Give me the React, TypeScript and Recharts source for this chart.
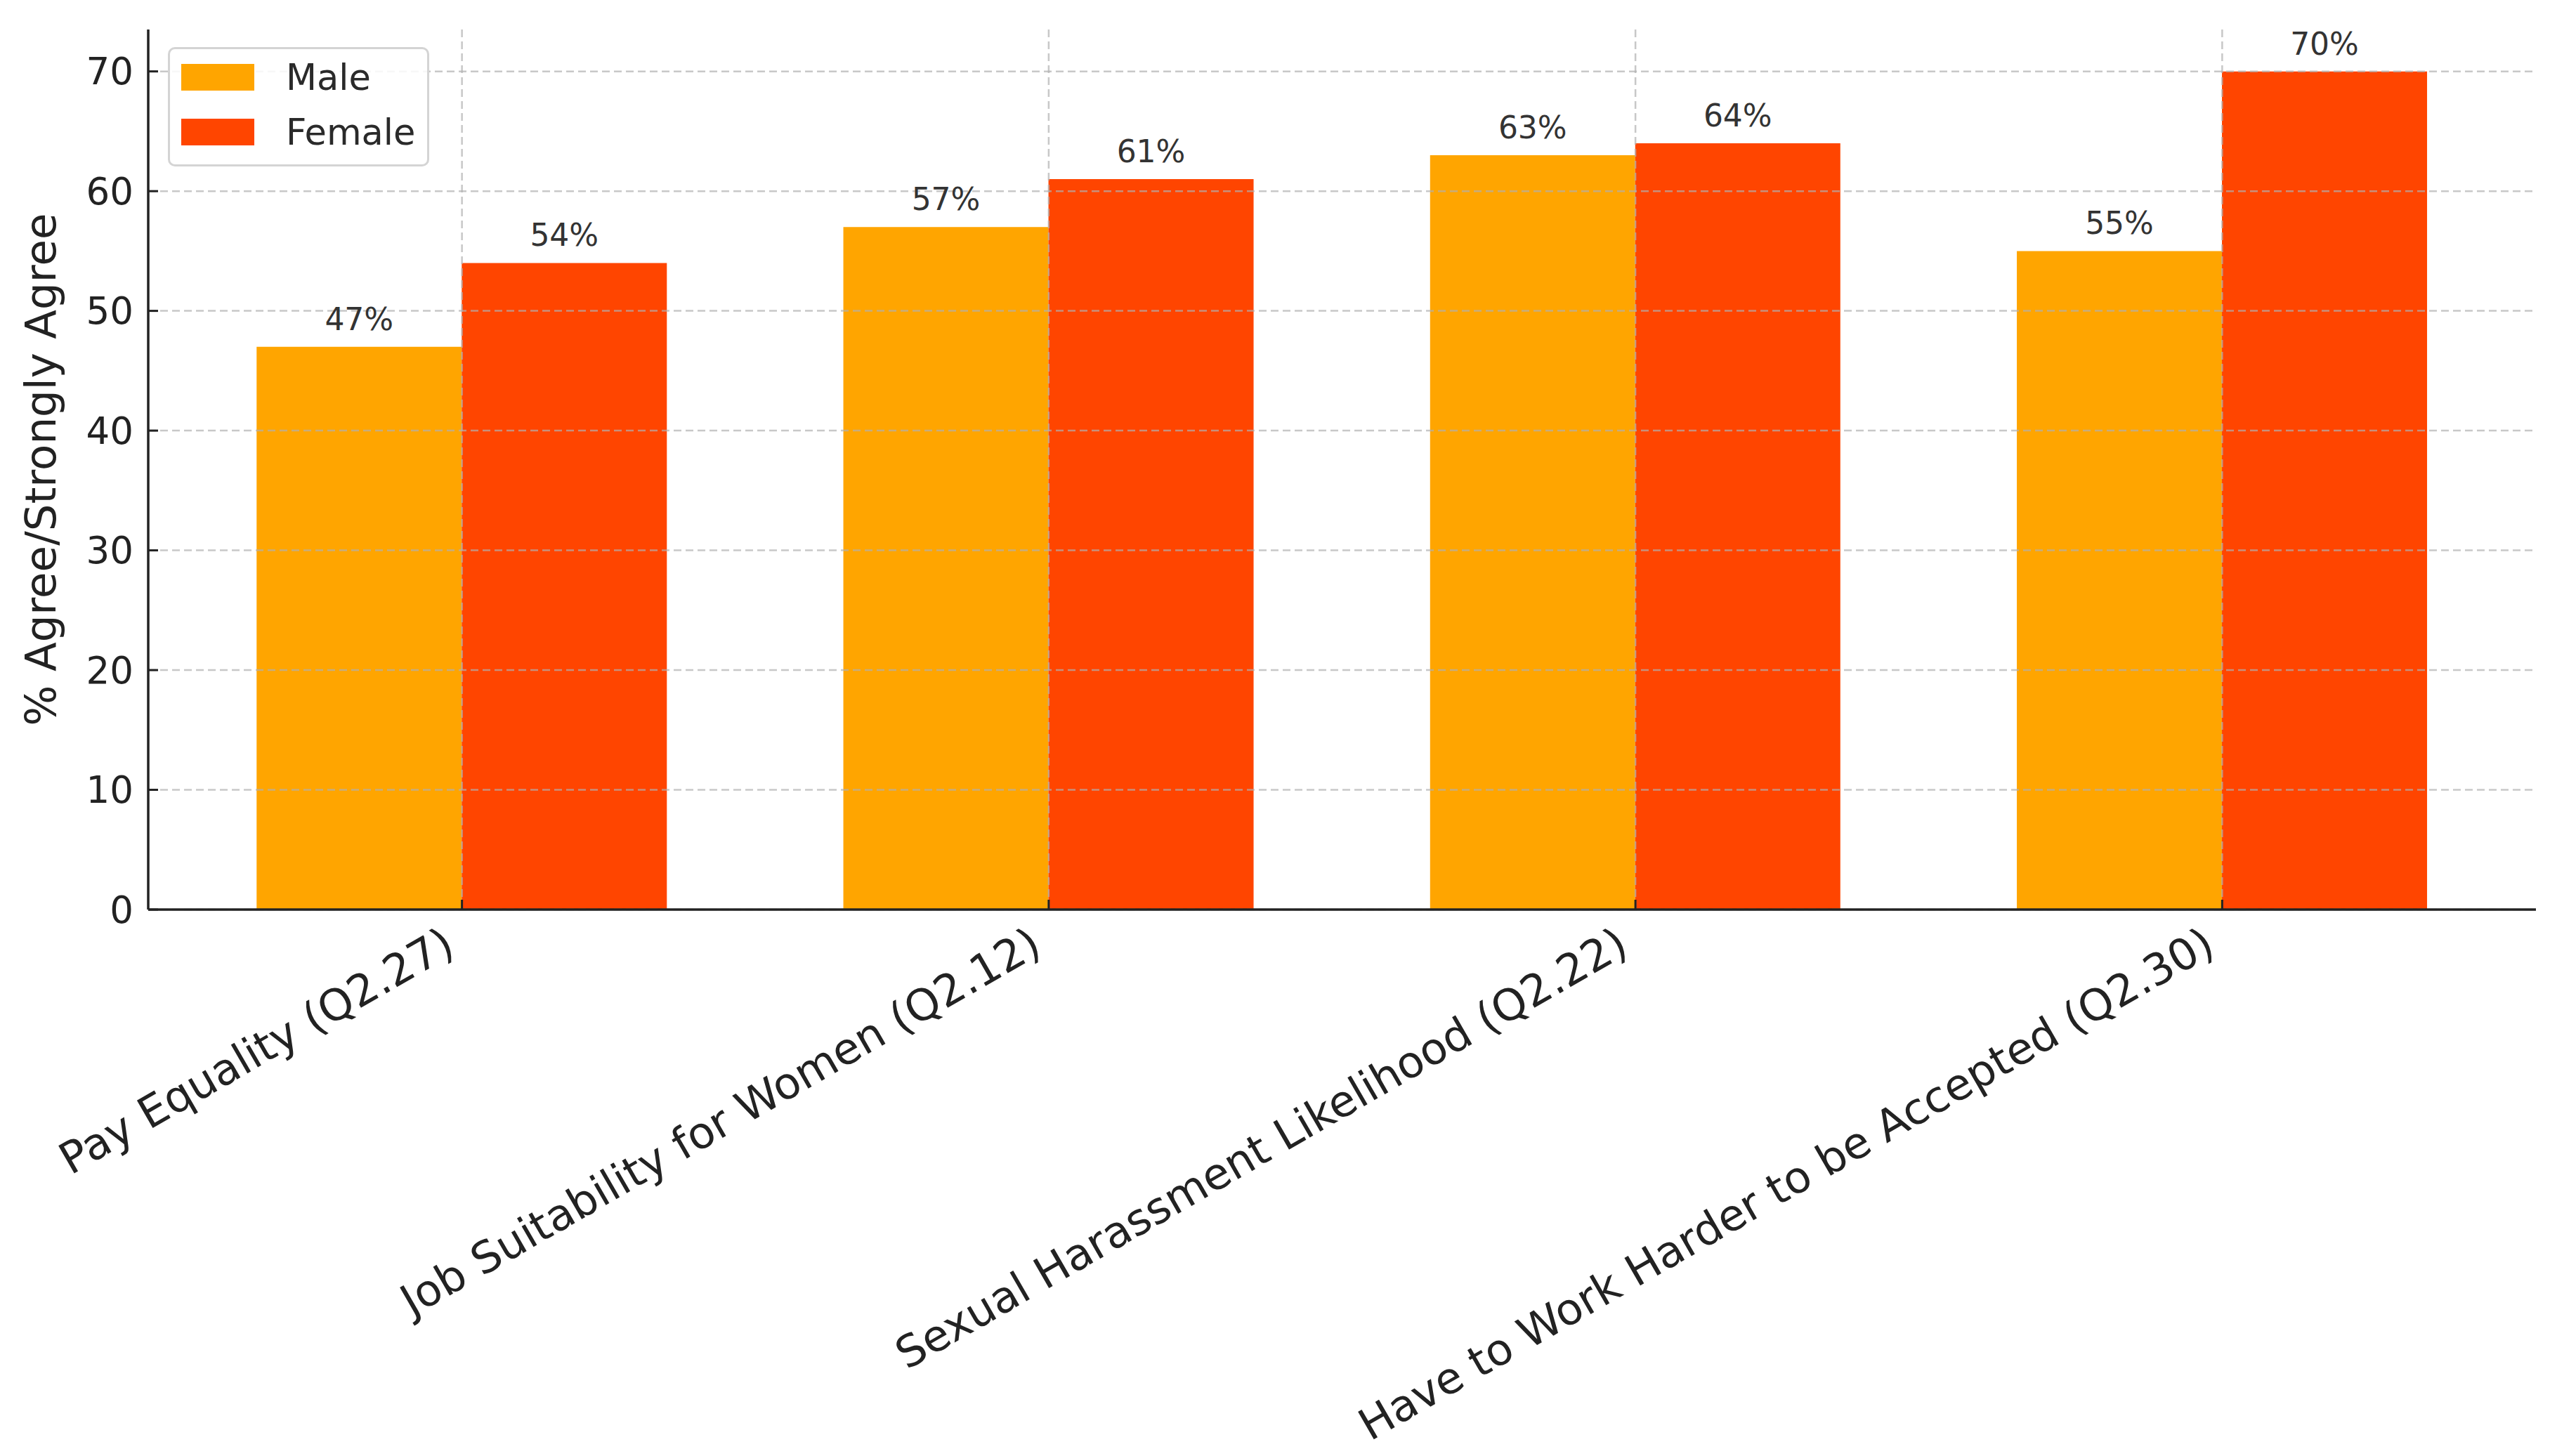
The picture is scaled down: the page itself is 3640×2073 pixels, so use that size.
import React from "react";
import {
  BarChart,
  Bar,
  XAxis,
  YAxis,
  CartesianGrid,
  Legend,
  LabelList,
} from "recharts";

const CATEGORIES = [
  "Pay Equality (Q2.27)",
  "Job Suitability for Women (Q2.12)",
  "Sexual Harassment Likelihood (Q2.22)",
  "Have to Work Harder to be Accepted (Q2.30)",
];
const MALE = [47, 57, 63, 55];
const FEMALE = [54, 61, 64, 70];
const Y_TICKS = [0, 10, 20, 30, 40, 50, 60, 70];
const SERIES_ORDER = ["Male", "Female"];

const FONT = "'DejaVu Sans', sans-serif";
const MALE_COLOR = "#FFA500";
const FEMALE_COLOR = "#FF4500";
const AXIS_COLOR = "#222";

const data = CATEGORIES.map((c, i) => ({
  category: c,
  male: MALE[i],
  female: FEMALE[i],
}));

/** rotated 30° labels, right end anchored at the tick like matplotlib ha="right" */
function CategoryTick({ x, y, payload }: any) {
  const ax = x - 7;
  const ay = y + 61;
  return (
    <text
      x={ax}
      y={ay}
      transform={`rotate(-30, ${ax}, ${ay})`}
      textAnchor="end"
      fontSize={62}
      fontFamily={FONT}
      fill={AXIS_COLOR}
    >
      {payload.value}
    </text>
  );
}

function LegendBox({ payload }: any) {
  const items = [...(payload || [])].sort(
    (a: any, b: any) => SERIES_ORDER.indexOf(a.value) - SERIES_ORDER.indexOf(b.value)
  );
  return (
    <div
      style={{
        width: 372,
        height: 170,
        boxSizing: "border-box",
        border: "3px solid #d4d4d4",
        borderRadius: 10,
        background: "rgba(255,255,255,0.85)",
        fontFamily: FONT,
        fontSize: 51,
        color: "#2a2a2a",
        padding: "21px 0 0 16px",
      }}
    >
      {items.map((p: any) => (
        <div
          key={p.value}
          style={{ display: "flex", alignItems: "center", height: 38, marginBottom: 40 }}
        >
          <span style={{ width: 104, height: 38, background: p.color, display: "inline-block" }} />
          <span style={{ marginLeft: 45, lineHeight: 1 }}>{p.value}</span>
        </div>
      ))}
    </div>
  );
}

export default function App() {
  return (
    <div style={{ position: "absolute", left: 0, top: 0, background: "#fff" }}>
      <BarChart
        width={3640}
        height={2073}
        data={data}
        margin={{ top: 42, right: 30, left: 0, bottom: 0 }}
        barCategoryGap="15%"
        barGap={0}
      >
        <XAxis
          dataKey="category"
          height={778}
          interval={0}
          zIndex={600}
          padding={{ left: 29, right: 29 }}
          axisLine={{ stroke: AXIS_COLOR, strokeWidth: 3.5 }}
          tickLine={{ stroke: AXIS_COLOR, strokeWidth: 3 }}
          tickSize={-14}
          tickMargin={14}
          tick={<CategoryTick />}
        />
        <YAxis
          width={211}
          domain={[0, 73.5]}
          ticks={Y_TICKS}
          allowDataOverflow
          zIndex={600}
          axisLine={{ stroke: AXIS_COLOR, strokeWidth: 3.5 }}
          tickLine={{ stroke: AXIS_COLOR, strokeWidth: 3 }}
          tickSize={-14}
          tickMargin={35}
          tick={{ fontSize: 53, fontFamily: FONT, fill: AXIS_COLOR }}
          label={{
            content: ({ viewBox }: any) => (
              <text
                x={57}
                y={viewBox.y + viewBox.height / 2}
                transform={`rotate(-90, 57, ${viewBox.y + viewBox.height / 2})`}
                textAnchor="middle"
                dominantBaseline="central"
                fontSize={61}
                fontFamily={FONT}
                fill={AXIS_COLOR}
              >
                % Agree/Strongly Agree
              </text>
            ),
          }}
        />
        <Legend
          layout="vertical"
          align="center"
          verticalAlign="middle"
          wrapperStyle={{ left: 239, top: 67, width: "auto", height: "auto" }}
          content={<LegendBox />}
        />
        <Bar dataKey="male" name="Male" fill={MALE_COLOR} isAnimationActive={false}>
          <LabelList
            dataKey="male"
            position="top"
            offset={24}
            formatter={(v: any) => `${v}%`}
            fill="#333"
            fontSize={44}
            fontFamily={FONT}
          />
        </Bar>
        <Bar dataKey="female" name="Female" fill={FEMALE_COLOR} isAnimationActive={false}>
          <LabelList
            dataKey="female"
            position="top"
            offset={24}
            formatter={(v: any) => `${v}%`}
            fill="#333"
            fontSize={44}
            fontFamily={FONT}
          />
        </Bar>
        {/* grid sits above the bars, as in the source */}
        <CartesianGrid
          syncWithTicks
          zIndex={500}
          stroke="#b0b0b0"
          strokeOpacity={0.7}
          strokeWidth={2.5}
          strokeDasharray="11 6"
        />
      </BarChart>
    </div>
  );
}
